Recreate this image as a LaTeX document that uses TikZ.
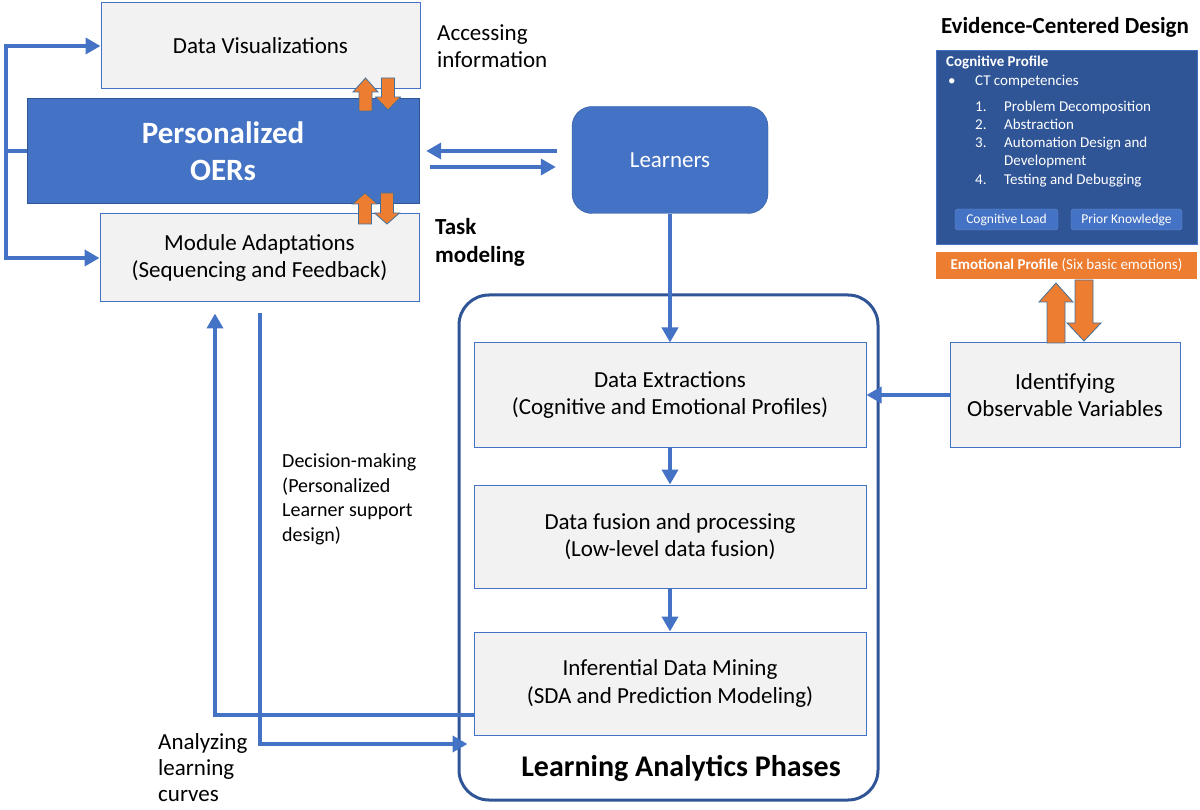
\documentclass[tikz,border=0pt]{standalone}
\usepackage{fontspec}
\setmainfont{Carlito}
\usetikzlibrary{arrows.meta}

\definecolor{oerblue}{HTML}{4472C4}
\definecolor{ecdblue}{HTML}{2F5597}
\definecolor{boxgray}{HTML}{F2F2F2}
\definecolor{emoorange}{HTML}{ED7D31}
\definecolor{edgeblue}{HTML}{41719C}

% block arrow: x, tail y, head base y, tip y, half shaft, half head
\newcommand{\blockarrow}[6]{%
  \filldraw[block] ({#1-#5},#2) -- ({#1-#5},#3) -- ({#1-#6},#3) -- (#1,#4)
    -- ({#1+#6},#3) -- ({#1+#5},#3) -- ({#1+#5},#2) -- cycle;}

\begin{document}
\begin{tikzpicture}[x=1pt,y=-1pt,
    big/.style={font=\fontsize{23}{27.5}\selectfont},
    small/.style={font=\fontsize{15}{18}\selectfont},
    phase/.style={draw=oerblue,fill=boxgray,line width=1pt,big,align=center,inner sep=0pt},
    filled/.style={draw=ecdblue,fill=oerblue,text=white,align=center,inner sep=0pt},
    conn/.style={draw=oerblue,line width=4.5pt,-{Triangle[length=15pt,width=16pt]}},
    line/.style={draw=oerblue,line width=4.5pt},
    block/.style={fill=emoorange,draw=edgeblue,line width=0.8pt},
    note/.style={big,align=left,anchor=west,inner sep=0pt},
    item/.style={small,text=white,anchor=west,inner sep=0pt,text height=11pt,text depth=3pt},
    button/.style={fill=oerblue,draw=oerblue!80!white,rounded corners=3pt,text=white,
        font=\fontsize{13.5}{16}\selectfont,inner sep=0pt},
]
    \useasboundingbox (0,0) rectangle (1200,810);

    %%%
    % OER side
    \node[phase,minimum width=319pt,minimum height=86pt] (dv) at (260.5,46) {Data Visualizations};
    \node[filled,minimum width=392pt,minimum height=105pt,
        font=\fontsize{31}{37}\selectfont\bfseries] (oer) at (223,151) {Personalized\\OERs};
    \node[phase,minimum width=319pt,minimum height=88pt] (ma) at (259.5,258)
        {Module Adaptations\\(Sequencing and Feedback)};
    \node[filled,rounded corners=20pt,minimum width=196pt,minimum height=107pt,big] (lrn)
        at (670,160) {Learners};

    \node[note] (acc) at (437,46) {Accessing\\information};
    \node[note,font=\fontsize{23}{28}\selectfont\bfseries] (task) at (435,242) {Task\\modeling};
    \node[note,font=\fontsize{20}{24.5}\selectfont] (dec) at (282,499.5)
        {Decision-making\\(Personalized\\Learner support\\design)};
    \node[note,font=\fontsize{23}{26}\selectfont] (curves) at (158,768) {Analyzing\\learning\\curves};

    %%%
    % Learning analytics phases
    \node[draw=ecdblue,line width=3pt,rounded corners=30pt,minimum width=419pt,
        minimum height=505pt] (lap) at (668.5,547.5) {};
    \node[font=\fontsize{30}{36}\selectfont\bfseries] (laplabel) at (681,768) {Learning Analytics Phases};
    \node[phase,minimum width=392pt,minimum height=104pt] (de) at (670,395)
        {Data Extractions\\(Cognitive and Emotional Profiles)};
    \node[phase,minimum width=392pt,minimum height=103pt] (dfp) at (670,536.5)
        {Data fusion and processing\\(Low-level data fusion)};
    \node[phase,minimum width=392pt,minimum height=103pt] (idm) at (670,683.5)
        {Inferential Data Mining\\(SDA and Prediction Modeling)};
    \node[phase,minimum width=230pt,minimum height=104pt] (iov) at (1065,395)
        {Identifying\\Observable Variables};

    %%%
    % Evidence-centered design
    \node[font=\fontsize{23}{27}\selectfont\bfseries] (ecd) at (1065,27) {Evidence-Centered Design};
    \node[draw=oerblue,fill=ecdblue,minimum width=261pt,minimum height=194pt] (cp) at (1066.5,147) {};
    \node[item,font=\fontsize{15}{18}\selectfont\bfseries] (cptitle) at (946,63) {Cognitive Profile};
    \node[item] (bullet) at (948,82) {\textbullet};
    \node[item] (ct) at (975,82) {CT competencies};
    \foreach \n/\t/\y [count=\i] in {1./Problem Decomposition/108, 2./Abstraction/126,
        3./Automation Design and/144, {}/Development/162, 4./Testing and Debugging/181}
    {
        \node[item] (num\i) at (975,\y) {\n};
        \node[item] (comp\i) at (1004,\y) {\t};
    }
    \node[button,minimum width=103pt,minimum height=21pt] (cl) at (1006.5,219.5) {Cognitive Load};
    \node[button,minimum width=111pt,minimum height=21pt] (pk) at (1126.5,219.5) {Prior Knowledge};
    \node[fill=emoorange,text=white,minimum width=261pt,minimum height=27pt,inner sep=0pt,small]
        (ep) at (1066.5,265.5) {\textbf{Emotional Profile} (Six basic emotions)};

    %%%
    % connectors
    \coordinate (split) at (6,151);
    \draw[line] (oer.west) -- (split);
    \draw[conn] (split) |- (dv.west);
    \draw[conn] (split) |- (ma.west);
    \draw[conn] ([xshift=-15pt,yshift=9pt]lrn.west) -- ([xshift=7pt]oer.east);
    \draw[conn] ([xshift=11pt,yshift=-16pt]oer.east) -- ([xshift=-16pt,yshift=-7pt]lrn.west);
    \draw[conn] (lrn.south) -- (de.north);
    \draw[conn] (de.south) -- (dfp.north);
    \draw[conn] (dfp.south) -- (idm.north);
    \draw[conn] (iov.west) -- (de.east);
    \draw[conn] ([yshift=-31.5pt]idm.west) -| ([xshift=-44.5pt,yshift=-11pt]ma.south);
    \draw[conn] ([xshift=0.5pt,yshift=-11pt]ma.south) |- ([xshift=10pt,yshift=-196.5pt]lap.west);

    % orange block arrows
    \blockarrow{365.5}{111}{92}{78}{6.5}{12.5}
    \blockarrow{388}{78}{97}{110}{6.5}{12.5}
    \blockarrow{365}{224}{204}{193}{6.5}{12.5}
    \blockarrow{387}{193}{213}{224}{6.5}{12.5}
    \blockarrow{1056}{343}{302}{283}{9}{17}
    \blockarrow{1084}{280}{323}{341}{9}{17}

\end{tikzpicture}
\end{document}
